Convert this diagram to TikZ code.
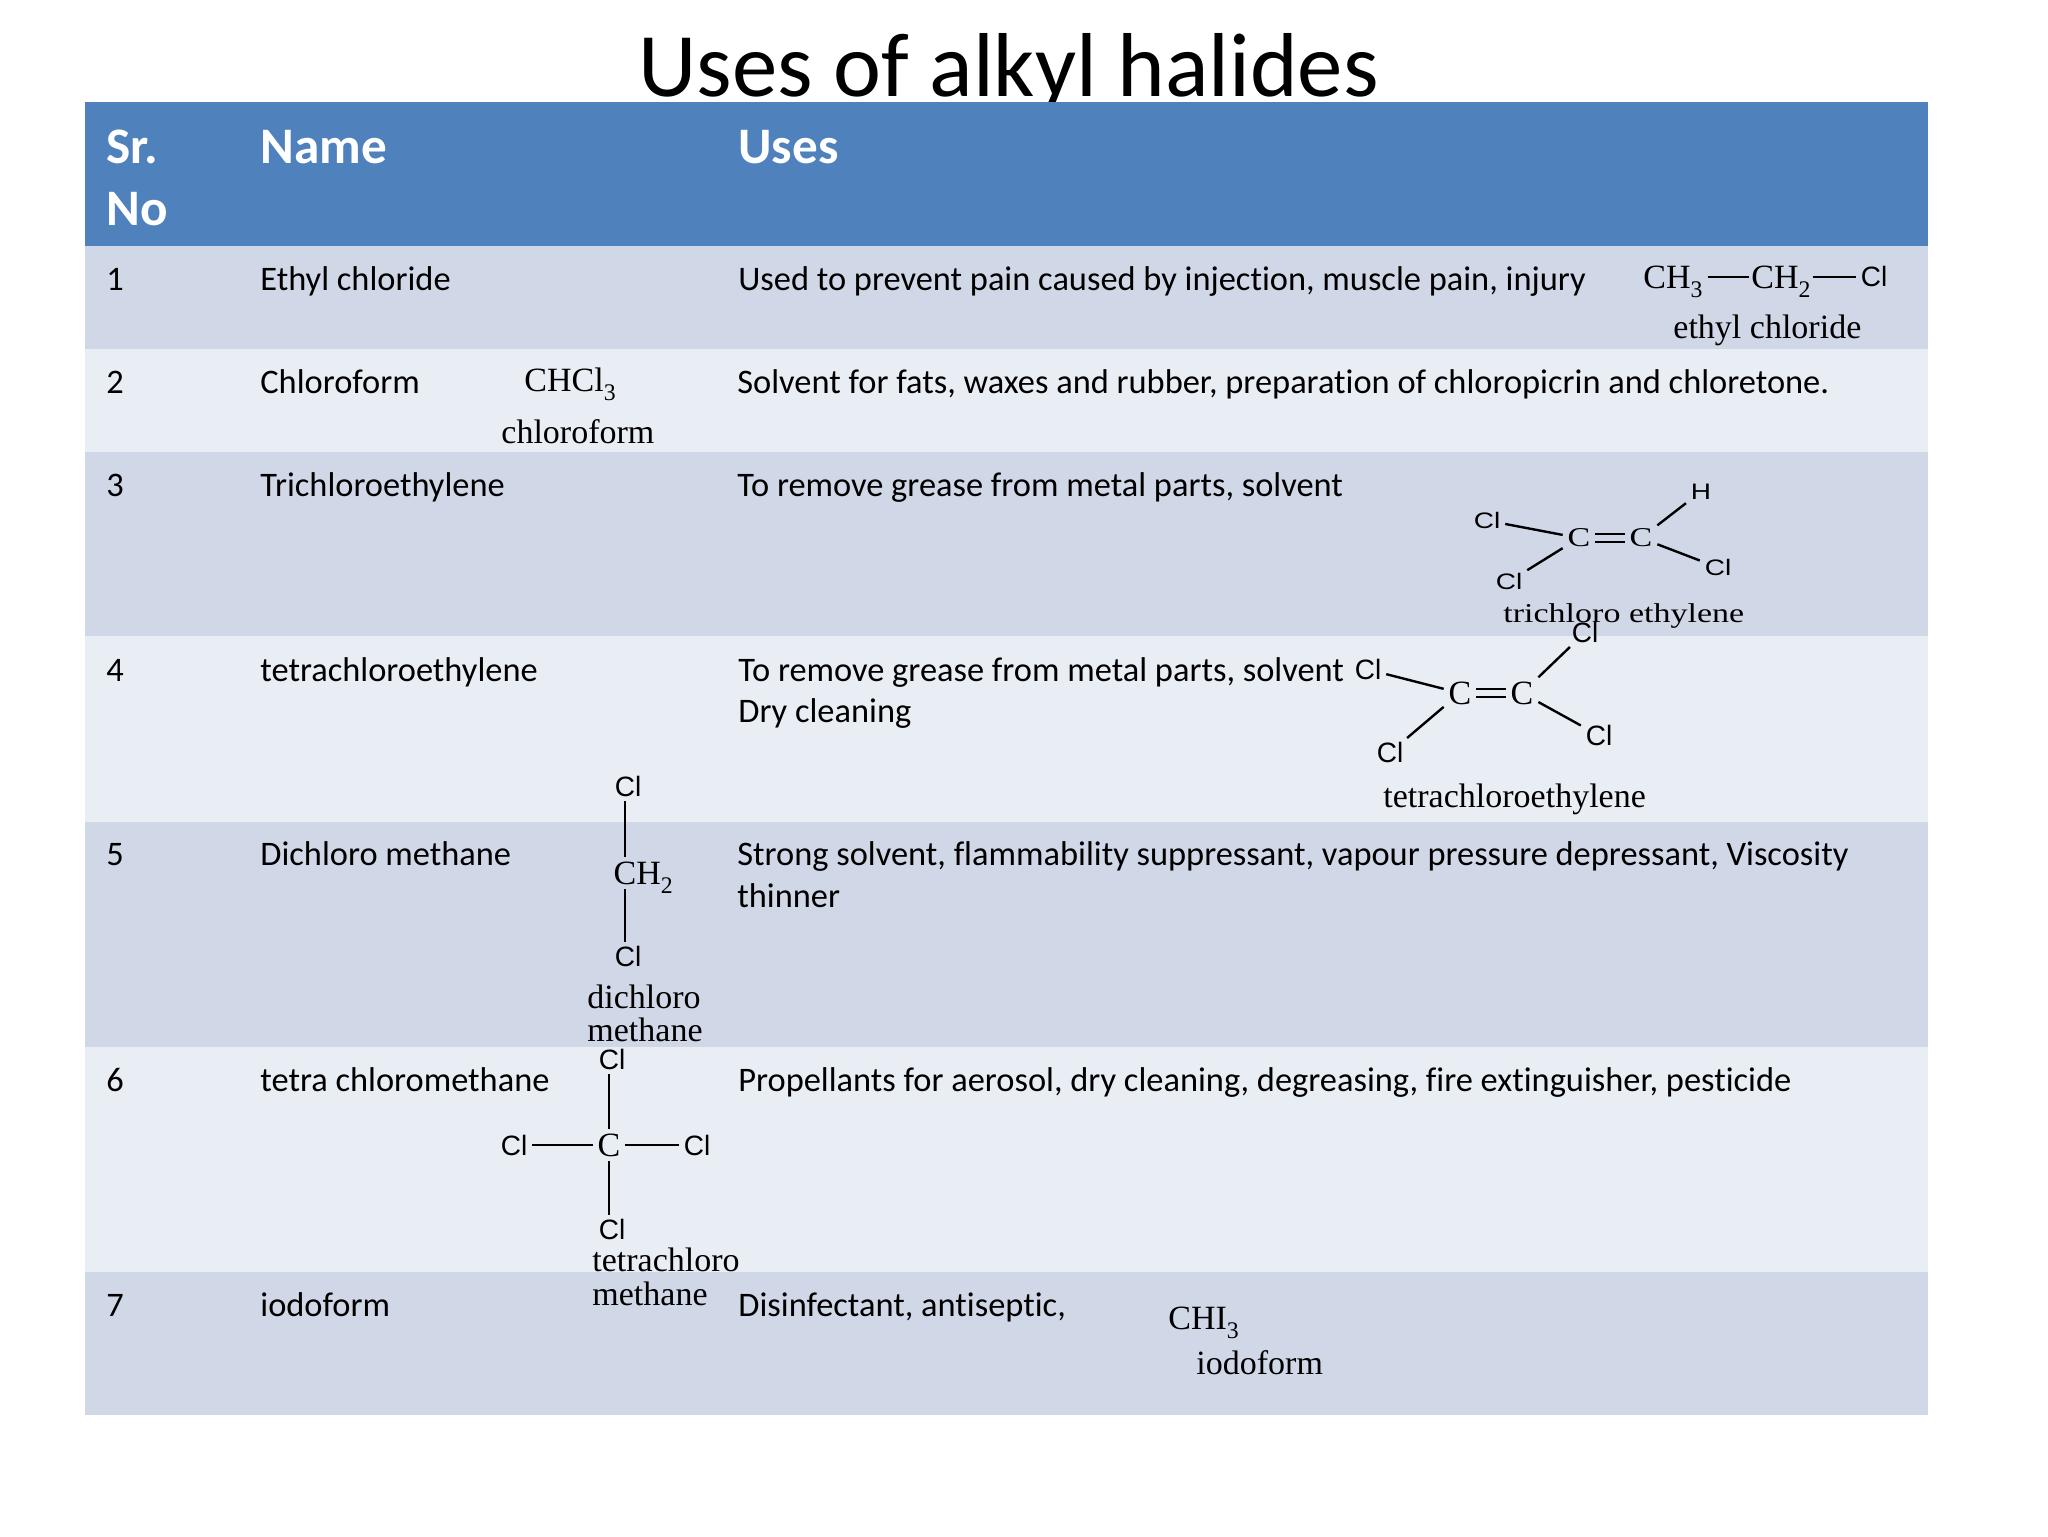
\documentclass[tikz,border=0pt]{standalone}
\usepackage{fontspec}
\setmainfont[Ligatures=NoCommon]{Carlito}
\newfontfamily\chemserif{Liberation Serif}
\newfontfamily\chemsans{Liberation Sans}
\definecolor{headblue}{HTML}{4F81BD}
\definecolor{rowdark}{HTML}{D0D8E8}
\definecolor{rowlight}{HTML}{E9EDF4}
\newcommand{\lowidx}[1]{\raisebox{-0.6ex}{\scalebox{0.7}{#1}}}
\newcommand{\squash}[1]{\scalebox{1}[0.8]{#1}}
\tikzset{
  headtext/.style={anchor=base west,inner sep=0pt,text=white,font=\fontsize{25.6}{30}\selectfont\bfseries},
  cell/.style={anchor=base west,inner sep=0pt,font=\fontsize{17.2}{21}\selectfont},
  molname/.style={anchor=base west,inner sep=0pt,font=\fontsize{17}{20}\selectfont\chemserif},
  atom/.style={anchor=base,inner sep=0pt,outer sep=2.5pt,text height=11pt,text depth=0pt,font=\fontsize{17}{20}\selectfont\chemserif},
  clatom/.style={anchor=base,inner sep=0pt,outer sep=2.5pt,text height=9.5pt,text depth=0pt,font=\fontsize{14}{16}\selectfont\chemsans},
  bond/.style={draw=black,line width=1.2pt},
  dbond/.style={bond,double distance=2.6pt}
}
\begin{document}
\begin{tikzpicture}[x=0.5pt,y=-0.5pt]
  \useasboundingbox (0,0) rectangle (2048,1536);
  \fill[white] (0,0) rectangle (2048,1536);
  \node[anchor=base west,inner sep=0pt,font=\fontsize{45.4}{54}\selectfont] (title) at (638,97) {Uses of alkyl halides};

  \fill[headblue] (85,102) rectangle (1928,246);
  \foreach \ytop/\ybot/\rowcol in {246/349/rowdark,349/452/rowlight,452/636/rowdark,636/822/rowlight,822/1047/rowdark,1047/1272/rowlight,1272/1415/rowdark}
    \fill[\rowcol] (85,\ytop) rectangle (1928,\ybot);

  \node[headtext] (hsr) at (106,163) {Sr.};
  \node[headtext] (hno) at (106,225) {No};
  \node[headtext] (hname) at (260,163) {Name};
  \node[headtext] (huses) at (738,163) {Uses};

  \node[cell] (sr1) at (106,290) {1};
  \node[cell] (name1) at (260,290) {Ethyl chloride};
  \node[cell] (use1) at (738,290) {Used to prevent pain caused by injection, muscle pain, injury};
  \node[cell] (sr2) at (106,393) {2};
  \node[cell] (name2) at (260,393) {Chloroform};
  \node[cell] (use2) at (737,393) {Solvent for fats, waxes and rubber, preparation of chloropicrin and chloretone.};
  \node[cell] (sr3) at (106,496) {3};
  \node[cell] (name3) at (260,496) {Trichloroethylene};
  \node[cell] (use3) at (737,496) {To remove grease from metal parts, solvent};
  \node[cell] (sr4) at (106,681) {4};
  \node[cell] (name4) at (260,681) {tetrachloroethylene};
  \node[cell] (use4) at (738,681) {To remove grease from metal parts, solvent};
  \node[cell] (use4b) at (738,722) {Dry cleaning};
  \node[cell] (sr5) at (106,865) {5};
  \node[cell] (name5) at (260,865) {Dichloro methane};
  \node[cell] (use5) at (737,865) {Strong solvent, flammability suppressant, vapour pressure depressant, Viscosity};
  \node[cell] (use5b) at (737,907) {thinner};
  \node[cell] (sr6) at (106,1091) {6};
  \node[cell] (name6) at (260,1091) {tetra chloromethane};
  \node[cell] (use6) at (738,1091) {Propellants for aerosol, dry cleaning, degreasing, fire extinguisher, pesticide};
  \node[cell] (sr7) at (106,1316) {7};
  \node[cell] (name7) at (260,1316) {iodoform};
  \node[cell] (use7) at (738,1316) {Disinfectant, antiseptic,};

  \node[atom] (ec3) at (1673,288) {CH\lowidx{3}};
  \node[atom,outer sep=1pt] (ec2) at (1781,288) {CH\lowidx{2}};
  \node[clatom] (ecl) at (1874,286) {Cl};
  \node[molname] (ename) at (1673,338) {ethyl chloride};
  \draw[bond] (ec3) -- (ec2);
  \draw[bond] (ec2) -- (ecl.west |- ec2);

  \node[molname] (cf) at (524,391) {CHCl\lowidx{3}};
  \node[molname] (cfname) at (501,443) {chloroform};

  \node[atom,text height=8pt] (tc1) at (1579,546) {\squash{C}};
  \node[atom,text height=8pt] (tc2) at (1641,546) {\squash{C}};
  \node[clatom,text height=7.5pt] (tcl1) at (1487,528) {\squash{Cl}};
  \node[clatom,text height=7.5pt] (tcl2) at (1509,589) {\squash{Cl}};
  \node[clatom,text height=7.5pt] (tcl3) at (1718,575) {\squash{Cl}};
  \node[clatom,text height=7.5pt] (th) at (1701,499) {\squash{H}};
  \node[molname] (tname) at (1503,622) {\squash{trichloro ethylene}};
  \draw[dbond,double=rowdark] (tc1) -- (tc2);
  \draw[bond] (tcl1) -- (tc1);
  \draw[bond] (tcl2) -- (tc1);
  \draw[bond] (tc2) -- (th);
  \draw[bond] (tc2) -- (tcl3);

  \node[atom] (pc1) at (1460,704) {C};
  \node[atom] (pc2) at (1522,704) {C};
  \node[clatom] (pcl1) at (1368,679) {Cl};
  \node[clatom] (pcl2) at (1390,762) {Cl};
  \node[clatom] (pcl3) at (1585,642) {Cl};
  \node[clatom] (pcl4) at (1599,745) {Cl};
  \node[molname] (pname) at (1383,807) {tetrachloroethylene};
  \draw[dbond,double=rowlight] (pc1) -- (pc2);
  \draw[bond] (pcl1) -- (pc1);
  \draw[bond] (pcl2) -- (pc1);
  \draw[bond] (pc2) -- (pcl3);
  \draw[bond] (pc2) -- (pcl4);

  \node[clatom] (dcl1) at (628,796) {Cl};
  \node[atom] (dc) at (625,884) {C\rlap{H\lowidx{2}}};
  \node[clatom] (dcl2) at (628,966) {Cl};
  \node[molname] (dname1) at (587,1008) {dichloro};
  \node[molname] (dname2) at (587,1041) {methane};
  \draw[bond] (dc.north) -- (dc.north |- dcl1.south);
  \draw[bond] (dc.south) -- (dc.south |- dcl2.north);

  \node[atom] (mc) at (609,1156) {C};
  \node[clatom] (mcl1) at (612,1069) {Cl};
  \node[clatom] (mcl2) at (514,1155) {Cl};
  \node[clatom] (mcl3) at (697,1155) {Cl};
  \node[clatom] (mcl4) at (612,1239) {Cl};
  \node[molname] (mname1) at (592,1271) {tetrachloro};
  \node[molname] (mname2) at (592,1305) {methane};
  \draw[bond] (mc.north) -- (mc.north |- mcl1.south);
  \draw[bond] (mc.south) -- (mc.south |- mcl4.north);
  \draw[bond] (mc.west) -- (mc.west -| mcl2.east);
  \draw[bond] (mc.east) -- (mc.east -| mcl3.west);

  \node[molname] (io) at (1168,1329) {CHI\lowidx{3}};
  \node[molname] (ioname) at (1196,1374) {iodoform};
\end{tikzpicture}
\end{document}
